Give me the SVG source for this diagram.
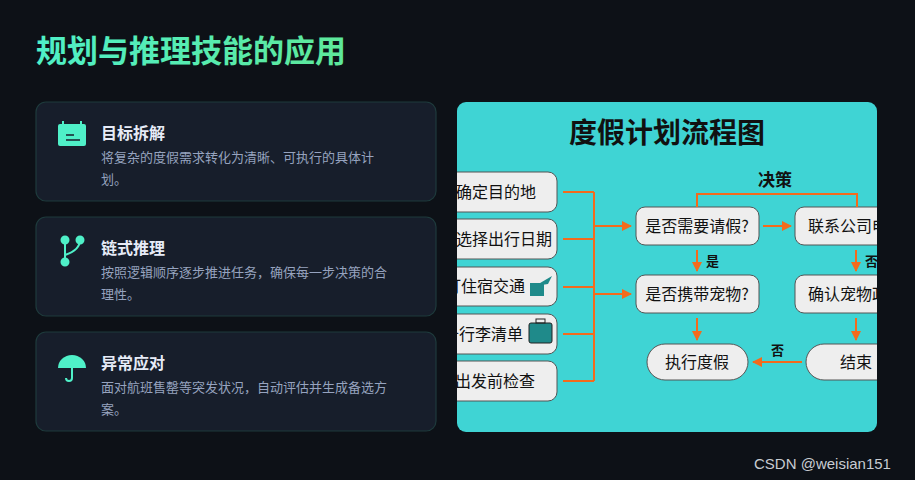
<svg xmlns="http://www.w3.org/2000/svg" width="915" height="480" viewBox="0 0 915 480">
<defs>
<style>
.cjk{font-family:"Noto Sans CJK SC","Liberation Sans",sans-serif}
.card{fill:#171e2b;stroke:#1e3a3c;stroke-width:1.2}
.ct{font-size:16px;font-weight:bold;fill:#e6ebf7}
.cd{font-size:13px;fill:#96a3bf}
.fb{fill:#eeeeee;stroke:#555;stroke-width:1}
.ft{font-size:16px;fill:#111}
.ln{stroke:#f26b1d;stroke-width:2;fill:none}
.ar{stroke:#f26b1d;stroke-width:2;fill:none;marker-end:url(#ah)}
</style>
<marker id="ah" viewBox="0 0 10 10" refX="9" refY="5" markerWidth="5" markerHeight="5" orient="auto"><path d="M0,0L10,5L0,10z" fill="#f26b1d"/></marker>
<linearGradient id="tg" x1="0" x2="1"><stop offset="0" stop-color="#4ff0c8"/><stop offset="1" stop-color="#5ee89a"/></linearGradient>
<clipPath id="pc"><rect x="457" y="102" width="420" height="330" rx="9"/></clipPath>
</defs>
<rect width="915" height="480" fill="#0d1117"/>
<text x="36" y="62" class="cjk" font-size="31" font-weight="bold" fill="url(#tg)">规划与推理技能的应用</text>

<g id="card1"><rect class="card" x="36" y="102" width="400" height="99" rx="10"/>
<rect x="58" y="124" width="28" height="22" rx="2" fill="#4ff0c8"/><rect x="62" y="121" width="2" height="5" fill="#4ff0c8"/><rect x="80" y="121" width="2" height="5" fill="#4ff0c8"/>
<line x1="66" y1="135" x2="74" y2="135" stroke="#171e2b" stroke-width="1.5"/><line x1="66" y1="140" x2="80" y2="140" stroke="#171e2b" stroke-width="1.5"/>
<text x="101" y="139" class="cjk ct">目标拆解</text>
<text x="101" y="162" class="cjk cd">将复杂的度假需求转化为清晰、可执行的具体计</text>
<text x="101" y="184" class="cjk cd">划。</text></g>

<g id="card2"><rect class="card" x="36" y="217" width="400" height="99" rx="10"/>
<g stroke="#4ff0c8" stroke-width="2" fill="#4ff0c8"><line x1="65" y1="240" x2="65" y2="262"/><path d="M80,240 Q80,250 65,255" fill="none"/><circle cx="65" cy="240" r="3.5"/><circle cx="80" cy="240" r="3.5"/><circle cx="65" cy="262" r="3.5"/></g>
<text x="101" y="254" class="cjk ct">链式推理</text>
<text x="101" y="277" class="cjk cd">按照逻辑顺序逐步推进任务，确保每一步决策的合</text>
<text x="101" y="299" class="cjk cd">理性。</text></g>

<g id="card3"><rect class="card" x="36" y="332" width="400" height="99" rx="10"/>
<path d="M58,368 A14,13 0 0 1 86,368 Z" fill="#4ff0c8"/>
<path d="M72,368 V378 A3,3 0 0 1 66,378" stroke="#4ff0c8" stroke-width="2" fill="none"/>
<text x="101" y="369" class="cjk ct">异常应对</text>
<text x="101" y="392" class="cjk cd">面对航班售罄等突发状况，自动评估并生成备选方</text>
<text x="101" y="414" class="cjk cd">案。</text></g>

<g id="panel" clip-path="url(#pc)">
<rect x="457" y="102" width="420" height="330" fill="#3fd4d4"/>
<text x="667" y="143" text-anchor="middle" class="cjk" font-size="28" font-weight="bold" fill="#111">度假计划流程图</text>
<g id="left-steps">
<rect class="fb" x="420" y="172" width="137" height="40" rx="9"/><text x="456" y="198" class="cjk ft">确定目的地</text>
<rect class="fb" x="420" y="219" width="137" height="40" rx="9"/><text x="456" y="245" class="cjk ft">选择出行日期</text>
<rect class="fb" x="420" y="267" width="137" height="39" rx="9"/><text x="445" y="292" class="cjk ft">订住宿交通</text>
<rect x="530" y="283" width="14" height="13" fill="#1f8a8a"/><path d="M535,286 l17,-10 l-4,8 z" fill="#1f8a8a"/>
<rect class="fb" x="420" y="314" width="137" height="40" rx="9"/><text x="443" y="340" class="cjk ft">备行李清单</text>
<rect x="529" y="323" width="23" height="20" rx="2" fill="#1f8a8a" stroke="#222"/><rect x="536" y="319" width="9" height="4" fill="none" stroke="#222"/>
<rect class="fb" x="420" y="361" width="137" height="40" rx="9"/><text x="455" y="387" class="cjk ft">出发前检查</text>
</g>
<g id="decision-nodes">
<text x="775" y="186" text-anchor="middle" class="cjk" font-size="17" font-weight="bold" fill="#111">决策</text>
<rect class="fb" x="636" y="207" width="123" height="38" rx="9"/><text x="697" y="232" text-anchor="middle" class="cjk ft">是否需要请假?</text>
<rect class="fb" x="636" y="275" width="123" height="38" rx="9"/><text x="697" y="300" text-anchor="middle" class="cjk ft">是否携带宠物?</text>
<rect class="fb" x="795" y="207" width="120" height="38" rx="9"/><text x="808" y="232" class="cjk ft">联系公司申请</text>
<rect class="fb" x="795" y="275" width="120" height="38" rx="9"/><text x="808" y="300" class="cjk ft">确认宠物政策</text>
<rect class="fb" x="647" y="344" width="101" height="36" rx="18"/><text x="697" y="368" text-anchor="middle" class="cjk ft">执行度假</text>
<rect class="fb" x="806" y="344" width="110" height="36" rx="18"/><text x="856" y="368" text-anchor="middle" class="cjk ft">结束</text>
</g>
<g id="connectors">
<path class="ln" d="M563,192 H594 M563,239 H594 M563,287 H594 M563,334 H594 M563,381 H594 M594,192 V381"/>
<path class="ar" d="M594,226 H631"/><path class="ar" d="M594,294 H631"/>
<path class="ln" d="M697,207 V194 H857 V207"/>
<path class="ar" d="M763,226 H791"/>
<path class="ar" d="M697,250 V271"/><path class="ar" d="M856,250 V271"/>
<path class="ar" d="M697,318 V340"/><path class="ar" d="M856,318 V340"/>
<path class="ar" d="M802,362 H753"/>
<text x="706" y="266" class="cjk" font-size="13" font-weight="bold" fill="#111">是</text>
<text x="865" y="266" class="cjk" font-size="13" font-weight="bold" fill="#111">否</text>
<text x="771" y="355" class="cjk" font-size="13" font-weight="bold" fill="#111">否</text>
</g>
</g>
<text x="754" y="469" font-family="Liberation Sans,sans-serif" font-size="15" fill="#c8ccd2">CSDN @weisian151</text>
</svg>
